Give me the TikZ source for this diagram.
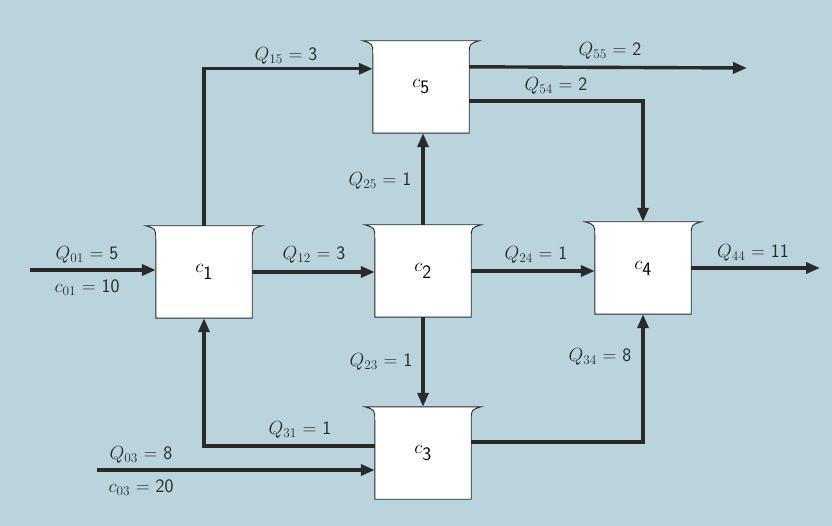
\documentclass[tikz,border=0pt]{standalone}
\usepackage{fix-cm}
\usetikzlibrary{arrows.meta,calc}
\definecolor{bg}{HTML}{B9D4DD}
\definecolor{ink}{HTML}{2A2A2A}
\tikzset{
  tank/.style={minimum width=96pt,minimum height=92pt,inner sep=0pt,font=\fontsize{19}{22}\selectfont},
  flow/.style={draw=ink,line width=3.4pt,-{Triangle[length=14pt,width=11pt]}},
  lbl/.style={font=\fontsize{19}{22}\selectfont,text=ink,inner sep=1pt}
}
\newcommand{\tankoutline}[1]{%
  \filldraw[fill=white,draw=ink,line width=0.9pt]
   (#1.south west) -- ([yshift=-14pt]#1.north west)
   .. controls ([yshift=-3pt]#1.north west) .. ([xshift=-10pt]#1.north west)
   -- ([xshift=10pt]#1.north east)
   .. controls ([yshift=-3pt]#1.north east) .. ([yshift=-14pt]#1.north east)
   -- (#1.south east) -- cycle;}
\newcommand{\Ql}[2]{$Q_{#1}$ \textsf{= #2}}
\begin{document}
\begin{tikzpicture}[x=1pt,y=-1pt]
\fill[bg] (0,0) rectangle (832,526);
\useasboundingbox (0,0) rectangle (832,526);
\node[tank] (c1) at (204,272) {};
\node[tank] (c2) at (423,271) {};
\node[tank] (c5) at (421,87) {};
\node[tank] (c4) at (643,268) {};
\node[tank] (c3) at (423,453) {};
\foreach \n in {c1,c2,c3,c4,c5} {\tankoutline{\n}}
\node[tank] at (c1) {$c_{\textsf{1}}$};
\node[tank] at (c2) {$c_{\textsf{2}}$};
\node[tank] at (c3) {$c_{\textsf{3}}$};
\node[tank] at (c4) {$c_{\textsf{4}}$};
\node[tank] at (c5) {$c_{\textsf{5}}$};
\coordinate (in1) at (30,270);
\coordinate (in3) at (97,470);
\coordinate (out5) at (747,68);
\coordinate (out4) at (820,268);
% flows
\draw[flow] (in1) -- (in1 -| c1.west);
\draw[flow] (c1.north) |- ($(c5.north west)+(0,28)$);
\draw[flow] ($(c5.north east)+(0,26)$) -- (out5);
\draw[flow] (c1.east) -- (c1.east -| c2.west);
\draw[flow] (c2.north) -- (c2.north |- c5.south);
\draw[flow] (c2.east) -- (c2.east -| c4.west);
\draw[flow] (c4.east) -- (out4);
\draw[flow] (c2.south) -- (c3.north);
\draw[flow] ($(c5.south east)+(0,-32)$) -| (c4.north);
\draw[flow] ($(c3.north east)+(0,35)$) -| (c4.south);
\draw[flow] ($(c3.north west)+(0,39)$) -| (c1.south);
\draw[flow] (in3) -- (in3 -| c3.west);
% labels
\node[lbl] at (87,255) {\Ql{01}{5}};
\node[lbl] at (87,288) {$c_{01}$ \textsf{= 10}};
\node[lbl] at (286,56) {\Ql{15}{3}};
\node[lbl] at (610,51) {\Ql{55}{2}};
\node[lbl] at (556,86) {\Ql{54}{2}};
\node[lbl] at (380,181) {\Ql{25}{1}};
\node[lbl] at (314,255) {\Ql{12}{3}};
\node[lbl] at (536,255) {\Ql{24}{1}};
\node[lbl] at (753,253) {\Ql{44}{11}};
\node[lbl] at (381,362) {\Ql{23}{1}};
\node[lbl] at (600,357) {\Ql{34}{8}};
\node[lbl] at (300,430) {\Ql{31}{1}};
\node[lbl] at (141,455) {\Ql{03}{8}};
\node[lbl] at (141,488) {$c_{03}$ \textsf{= 20}};
\end{tikzpicture}
\end{document}
